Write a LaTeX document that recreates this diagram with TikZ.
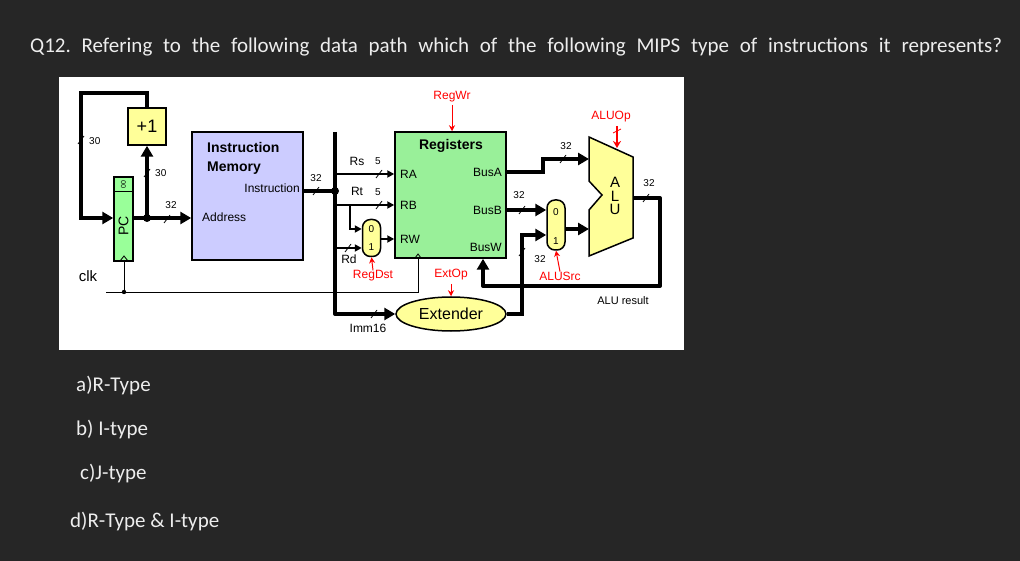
\documentclass[tikz,border=0pt]{standalone}
\usepackage{fontspec}
\setmainfont{Carlito}
\newfontfamily\arial{Liberation Sans}
\usetikzlibrary{arrows.meta,shapes.geometric}
\definecolor{bgc}{HTML}{262626}
\definecolor{memc}{HTML}{CCCCFF}
\definecolor{regc}{HTML}{99F099}
\definecolor{yel}{HTML}{FFFF99}
\definecolor{txt}{HTML}{EDEDED}
\tikzset{
 bus/.style={line width=4pt},
 arr/.style={-{Triangle[length=11pt,width=12pt]}},
 thin/.style={line width=0.8pt},
 lab/.style={font=\arial\fontsize{12}{12}\selectfont,inner sep=0},
 num/.style={font=\arial\fontsize{10}{10}\selectfont,inner sep=0},
 redlab/.style={font=\arial\fontsize{12}{12}\selectfont,inner sep=0,text=red},
 redarr/.style={draw=red,line width=1pt,-{Stealth[length=6pt,width=6pt]}},
 muxbox/.style={draw,line width=1.5pt,fill=yel,rounded corners=8pt},
 ans/.style={font=\fontsize{21}{21}\selectfont,text=txt,anchor=base west,inner sep=0},
}
\newcommand{\tick}[2]{\draw[thin] (#1-3,#2+4)--(#1+3,#2-4);}
\begin{document}
\begin{tikzpicture}[x=1pt,y=-1pt]
\fill[bgc] (0,0) rectangle (1020,561);
\useasboundingbox (0,0) rectangle (1020,561);
% question
\node[anchor=base west,inner sep=0,text=txt,font=\fontsize{21}{21}\selectfont] (q) at (30,53)
 {\hbox to 972pt{Q12.\hfill Refering\hfill to\hfill the\hfill following\hfill data\hfill path\hfill which\hfill of\hfill the\hfill following\hfill MIPS\hfill type\hfill of\hfill instructions\hfill it\hfill represents?}};
\node[ans] (a) at (76,391) {a)R-Type};
\node[ans] (b) at (76,435) {b) I-type};
\node[ans] (c) at (80,479) {c)J-type};
\node[ans] (d) at (70,527) {d)R-Type \& I-type};
% panel
\fill[white] (59,77) rectangle (684,350);
% clk
\node[font=\arial\fontsize{15}{15}\selectfont,inner sep=0] (clk) at (88,276) {clk};
\draw[thin] (106,292) -- (418,292) -- (418,259);
\draw[thin] (124,261) -- (124,292);
\fill (124,292) circle (2.2);
% PC
\node[draw,line width=1.5pt,fill=green!40,minimum width=19pt,minimum height=84pt,inner sep=0] (pc) at (123.5,219) {};
\draw[line width=1pt] (114,192) -- (133,192);
\node[rotate=90,inner sep=0,font=\arial\fontsize{7}{7}\selectfont] (zz) at (123.5,184.5) {00};
\node[rotate=90,font=\arial\fontsize{14}{14}\selectfont,inner sep=0] (pct) at (123.5,226) {PC};
\draw[thin] (120,261) -- (124,256) -- (128,261);
% +1
\node[draw,line width=1.5pt,fill=yel,minimum width=38pt,minimum height=37pt,inner sep=0,font=\arial\fontsize{18}{18}\selectfont] (inc) at (147,126.5) {+1};
\draw[bus,arr] (inc.north) -- (147,93) -- (81,93) -- (81,218) -- (pc.west|-0,218);
\tick{81}{140}
\node[num,anchor=west] at (89,141) {30};
\coordinate (pcdot) at (147,218);
\draw[bus] (pc.east|-0,218) -- (pcdot);
\fill (pcdot) circle (4);
\draw[bus,arr] (pcdot) -- (inc.south);
\tick{147}{173}
\node[num,anchor=west] at (155,173) {30};
% instr memory
\node[draw,line width=1.5pt,fill=memc,minimum width=111pt,minimum height=128pt,inner sep=0] (im) at (247.5,196) {};
\node[font=\arial\bfseries\fontsize{14}{14}\selectfont,anchor=base west,inner sep=0] at (207,153) {Instruction};
\node[font=\arial\bfseries\fontsize{14}{14}\selectfont,anchor=base west,inner sep=0] at (207,172) {Memory};
\node[lab,anchor=base east] at (300,193) {Instruction};
\node[lab,anchor=base west] at (202,222) {Address};
\draw[bus,arr] (pcdot) -- (im.west|-0,218);
\tick{167}{219}
\node[num] at (171,205) {32};
% bus
\coordinate (bdot) at (335,191);
\draw[bus] (im.east|-0,191) -- (bdot);
\tick{316}{191}
\node[num] at (316,178) {32};
\fill (bdot) circle (4);
\draw[bus,line join=round] (335,132) -- (335,314) -- (384,314);
% registers
\node[draw,line width=1.5pt,fill=regc,minimum width=111pt,minimum height=126pt,inner sep=0] (reg) at (450.5,195) {};
\draw[thin] (415,258) -- (418,254) -- (421,258);
\node[font=\arial\bfseries\fontsize{14}{14}\selectfont,inner sep=0] at (451,146) {Registers};
\node[lab,anchor=west] at (400,174) {RA};
\node[lab,anchor=west] at (400,205) {RB};
\node[lab,anchor=west] at (400,239) {RW};
\node[lab,anchor=east] at (502,172) {BusA};
\node[lab,anchor=east] at (502,210) {BusB};
\node[lab,anchor=east] at (502,247) {BusW};
\draw[line width=2pt,-{Triangle[length=7pt,width=7pt]}] (335,174) -- (reg.west|-0,174);
\draw[line width=2pt,-{Triangle[length=7pt,width=7pt]}] (335,205) -- (reg.west|-0,205);
\tick{379}{174}\tick{379}{205}
\node[lab] at (357,161) {Rs};\node[num] at (378,161) {5};
\node[lab] at (357,191) {Rt};\node[num] at (378,192) {5};
% regdst mux
\node[muxbox,minimum width=18pt,minimum height=37pt,inner sep=0] (m1) at (371.5,238) {};
\node[num] at (371.5,229) {0};\node[num] at (371.5,247) {1};
\draw[line width=2pt,-{Triangle[length=7pt,width=7pt]}] (350,205) -- (350,229) -- (m1.west|-0,229);
\draw[line width=2pt,-{Triangle[length=7pt,width=7pt]}] (335,248) -- (m1.west|-0,248);
\tick{348}{248}
\node[lab] at (349,259) {Rd};
\draw[line width=2pt,-{Triangle[length=7pt,width=7pt]}] (m1.east|-0,239) -- (reg.west|-0,239);
\node[redlab] (regdst) at (373,276) {RegDst};
\draw[redarr] (regdst.north) -- (m1.south);
% regwr
\node[redlab] (regwr) at (452,97) {RegWr};
\draw[redarr] (452,105) -- (reg.north-|452,0);
% extender
\node[draw,line width=1.5pt,fill=yel,ellipse,minimum width=110pt,minimum height=34pt,inner sep=0] (ext) at (451,314) {};
\node[font=\arial\fontsize{16}{16}\selectfont,inner sep=0] at (451,314) {Extender};
\draw[bus,arr] (384,314) -- (ext.west);
\tick{374}{314}
\node[lab] at (368,328) {Imm16};
\node[redlab] (extop) at (451,275) {ExtOp};
\draw[redarr] (451,284) -- (ext.north);
% ALUSrc mux
\node[muxbox,minimum width=18pt,minimum height=50pt,inner sep=0] (m2) at (556,225) {};
\node[num] at (556,212) {0};\node[num] at (556,241) {1};
\draw[bus,arr] (reg.east|-0,210) -- (m2.west|-0,210);
\tick{522}{210}
\node[num] at (519,195) {32};
\draw[bus,arr] (ext.east) -- (522,314) -- (522,235) -- (m2.west|-0,235);
\tick{522}{252}
\node[num] at (540,259) {32};
\node[redlab] (alusrc) at (560,276) {ALUSrc};
\draw[redarr] (alusrc.north) -- (m2.south);
% ALU
\draw[line width=1.5pt,fill=yel] (589,137) -- (633,157) -- (633,238) -- (589,256) -- (589,210) -- (602,195) -- (589,181) -- cycle;
\node[font=\arial\fontsize{15}{15}\selectfont,inner sep=0] (alu) at (615,196) {\shortstack{A\\L\\U}};
\coordinate (alua) at (589,159);
\coordinate (alub) at (589,229);
\draw[bus,arr] (reg.east|-0,172) -- (543,172) -- (543,159) -- (alua);
\tick{563}{159}
\node[num] at (566,146) {32};
\draw[bus,arr] (m2.east|-0,229) -- (alub);
\node[redlab] (aluop) at (611,117) {ALUOp};
\draw[draw=red,line width=2.5pt,-{Stealth[length=7pt,width=8pt]}] (617,126) -- (617,148);
\draw[thin,red] (613,133)--(621,129);
\draw[bus,arr,line join=round] (633,198) -- (660,198) -- (660,286) -- (483,286) -- (reg.south-|483,0);
\tick{646}{198}
\node[num] at (649,183) {32};
\node[font=\arial\fontsize{11}{11}\selectfont,inner sep=0] at (623,301) {ALU result};
\end{tikzpicture}
\end{document}
